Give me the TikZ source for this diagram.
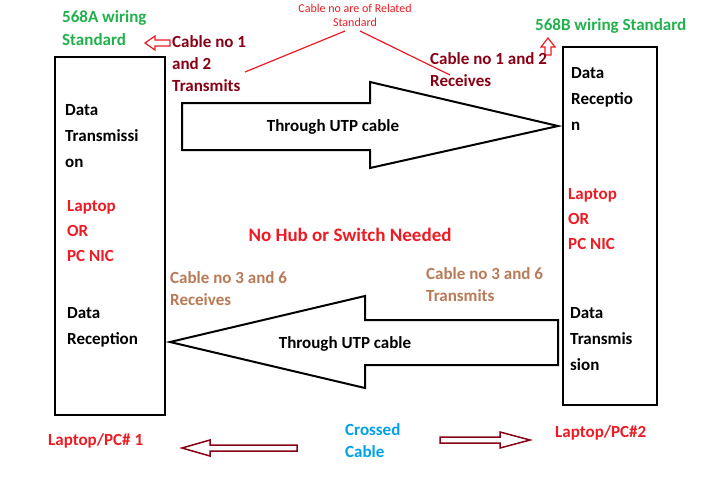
\documentclass[tikz,border=0pt]{standalone}
\usepackage{fontspec}
\setmainfont{Carlito}
\begin{document}
\begin{tikzpicture}[x=1pt,y=-1pt,
  t/.style={anchor=north west,inner sep=0pt,font=\bfseries\fontsize{17}{26}\selectfont,align=left},
  c/.style={anchor=center,inner sep=0pt,font=\bfseries\fontsize{17}{20}\selectfont},
  box/.style={draw=black,line width=2pt},
  big/.style={draw=black,line width=2pt,fill=white}]
\definecolor{grn}{RGB}{34,177,76}
\definecolor{drd}{RGB}{136,0,21}
\definecolor{rd}{RGB}{237,28,36}
\definecolor{tan}{RGB}{185,122,87}
\definecolor{blu}{RGB}{0,162,232}
\useasboundingbox (0,0) rectangle (714,485);
\fill[white] (0,0) rectangle (714,485);
\draw[box] (55,57) rectangle (165,415);
\draw[box] (563,47) rectangle (657,405);
% top arrow
\draw[big] (182,103) -- (370,103) -- (370,82) -- (558,126) -- (370,168) -- (370,150) -- (182,150) -- cycle;
\node[c] (u1) at (333,127) {Through UTP cable};
% bottom arrow
\draw[big] (558,320) -- (365,320) -- (365,296) -- (170,342) -- (365,388) -- (365,365) -- (558,365) -- cycle;
\node[c] (u2) at (345,344) {Through UTP cable};
% left texts
\node[t,text=grn] (a) at (62,10) {568A wiring\\[-3pt]Standard};
\node[t,text=drd] (c12) at (172,35) {Cable no 1\\[-4pt]and 2\\[-4pt]Transmits};
\draw[rd,line width=1.2pt] (170,40)--(155,40)--(155,36)--(145,43)--(155,50)--(155,46)--(170,46)--cycle;
\node[t] (lt) at (65,104) {Data\\Transmissi\\on};
\node[t,text=rd] (ll) at (67,200) {Laptop\\[-1pt]OR\\[-1pt]PC NIC};
\node[t] (lr) at (67,307) {Data\\Reception};
\node[t,text=tan] (c36a) at (170,271) {Cable no 3 and 6\\[-4pt]Receives};
% top note
\node[anchor=north,inner sep=0pt,text=rd,font=\fontsize{12}{14}\selectfont,align=center] (note) at (355,4) {Cable no are of Related\\Standard};
\draw[rd,line width=1.2pt] (345,31) -- (245,72);
\draw[rd,line width=1.2pt] (360,31) -- (450,75);
% right texts
\node[t,text=grn] (b) at (535,18) {568B wiring Standard};
\draw[rd,line width=1.2pt] (545,55)--(545,47)--(541,47)--(548,38)--(555,47)--(551,47)--(551,55)--cycle;
\node[t,text=drd] (c12r) at (430,52) {Cable no 1 and 2\\[-4pt]Receives};
\node[t] (rr) at (571,67) {Data\\Receptio\\n};
\node[t,text=rd] (rl) at (568,188) {Laptop\\[-1pt]OR\\[-1pt]PC NIC};
\node[t] (rt) at (570,307) {Data\\Transmis\\sion};
\node[t,text=tan] (c36b) at (426,267) {Cable no 3 and 6\\[-4pt]Transmits};
\node[c,text=rd,font=\bfseries\fontsize{19}{22}\selectfont] (nh) at (350,235) {No Hub or Switch Needed};
% bottom
\node[t,text=rd] (p1) at (48,433) {Laptop/PC\# 1};
\node[t,text=rd] (p2) at (555,425) {Laptop/PC\#2};
\node[t,text=blu] (cc) at (345,423) {Crossed\\[-4pt]Cable};
\draw[drd,line width=1.5pt] (297,445)--(210,445)--(210,440)--(182,448)--(210,456)--(210,451)--(297,451)--cycle;
\draw[drd,line width=1.5pt] (440,437)--(500,437)--(500,432)--(530,440)--(500,448)--(500,443)--(440,443)--cycle;
\end{tikzpicture}
\end{document}
